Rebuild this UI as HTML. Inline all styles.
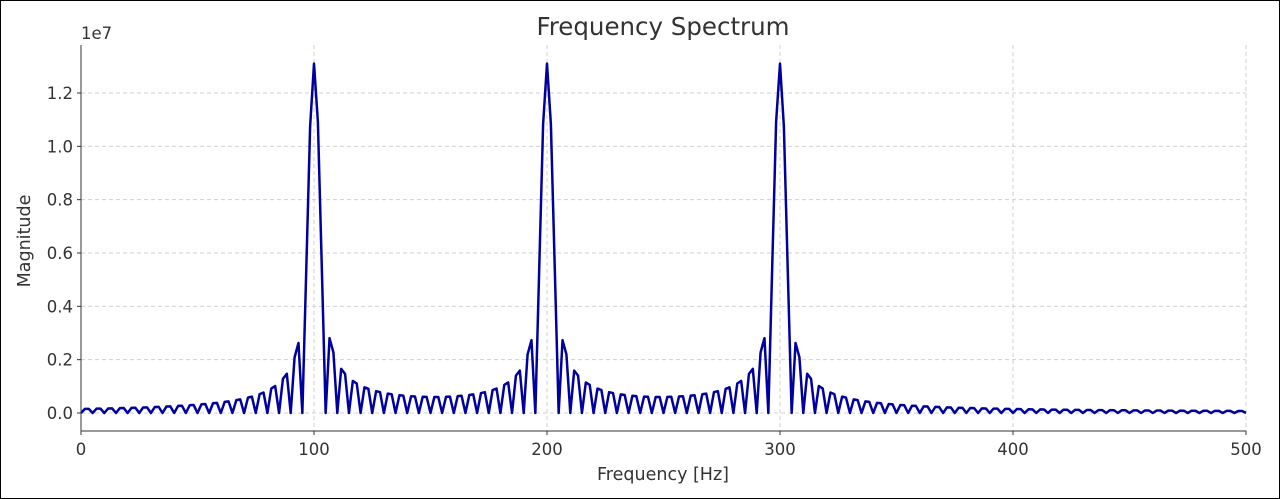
<!DOCTYPE html>
<html><head><meta charset="utf-8"><style>
html,body{margin:0;padding:0;background:#fff;}
#wrap{width:1278px;height:497px;border:1px solid #000;position:relative;overflow:hidden;}
svg{display:block;font-family:"DejaVu Sans","Liberation Sans",sans-serif;}
</style></head><body>
<div id="wrap">
<svg id="chart" width="1278" height="497"></svg>
</div>
<script>
const freqStart = 0;
const freqStep = 5/3;
const magnitudesMillions = [
0,.153,.156,0,.162,.165,0,.171,.174,0,.182,.186,0,.194,.198,0,.208,.213,0,.224,.230,0,.243,.250,0,.265,.274,0,.292,.302,0,.325,.337,0,.365,.380,0,.416,.436,0,.484,.511,0,.576,.614,0,.708,.766,0,.915,1.012,0,1.279,1.471,0,2.086,2.626,0,5.329,10.742,
13.1,
10.92,5.51,0,2.807,2.269,0,1.656,1.465,0,1.201,1.106,0,.962,.907,0,.819,.784,0,.727,.704,0,.667,.652,0,.628,.620,0,.608,.604,0,.601,.602,0,.609,.615,0,.633,.645,0,.677,.697,0,.748,.781,0,.863,.915,0,1.053,1.145,0,1.403,1.590,0,2.196,2.732,0,5.427,10.836,
13.1,
10.836,5.427,0,2.732,2.196,0,1.590,1.403,0,1.145,1.053,0,.915,.863,0,.781,.748,0,.697,.677,0,.645,.633,0,.615,.609,0,.602,.601,0,.604,.608,0,.620,.628,0,.652,.667,0,.704,.727,0,.784,.819,0,.907,.962,0,1.106,1.201,0,1.465,1.656,0,2.269,2.807,0,5.51,10.92,
13.1,
10.742,5.329,0,2.626,2.086,0,1.471,1.279,0,1.012,.915,0,.766,.708,0,.614,.576,0,.511,.484,0,.436,.416,0,.380,.365,0,.337,.325,0,.302,.292,0,.274,.265,0,.250,.243,0,.230,.224,0,.213,.208,0,.198,.194,0,.186,.182,0,.174,.171,0,.165,.162,0,.156,.153,0,
.148,.145,0,.141,.138,0,.134,.132,0,.128,.127,0,.123,.121,0,.118,.117,0,.114,.112,0,.109,.108,0,.106,.104,0,.102,.101,0,.098,.097,0,.095,.094,0,.093,.092,0,.090,.089,0,.087,.086,0,.085,.084,0,.083,.082,0,.081,.080,0,.078,.078,0,.076,.076,0
];
const xTicks = [0,100,200,300,400,500];
const yTicks = [0.0,0.2,0.4,0.6,0.8,1.0,1.2];
const yTickLabels = ["0.0","0.2","0.4","0.6","0.8","1.0","1.2"];

const NS = "http://www.w3.org/2000/svg";
const svg = document.getElementById('chart');
const L = 80, R = 1245, T = 44, B = 430;
const xMin = 0, xMax = 500, yMin = -0.0675, yMax = 1.38;
function xs(v){ return L + (v - xMin) / (xMax - xMin) * (R - L); }
function ys(v){ return B - (v - yMin) / (yMax - yMin) * (B - T); }
function mk(tag, attrs){ const e = document.createElementNS(NS, tag); for (const k in attrs) e.setAttribute(k, attrs[k]); svg.appendChild(e); return e; }

xTicks.forEach((t) => {
  const x = xs(t);
  const g = mk('line', {x1:x, x2:x, y1:T, y2:B, stroke:'#d0d0d0', 'stroke-width':1, 'stroke-dasharray':'4,3'});
  
  
  const tk = mk('line', {x1:x, x2:x, y1:B, y2:B+4, stroke:'#333', 'stroke-width':1});
  
  
  const lb = mk('text', {x:x, y:B+24, 'text-anchor':'middle', 'font-size':16.5, fill:'#333'});
  lb.textContent = String(t);
  
  
});
yTicks.forEach((t, i) => {
  const y = ys(t);
  const g = mk('line', {x1:L, x2:R, y1:y, y2:y, stroke:'#d0d0d0', 'stroke-width':1, 'stroke-dasharray':'4,3'});
  
  
  const tk = mk('line', {x1:L-4, x2:L, y1:y, y2:y, stroke:'#333', 'stroke-width':1});
  
  
  const lb = mk('text', {x:L-8, y:y+6, 'text-anchor':'end', 'font-size':16.5, fill:'#333'});
  lb.textContent = yTickLabels[i];
  
  
});

let d = '';
magnitudesMillions.forEach((m, i) => {
  const f = freqStart + i * freqStep;
  d += (i ? 'L' : 'M') + xs(f).toFixed(2) + ',' + ys(m / 10).toFixed(2);
});
const line = mk('path', {d:d, fill:'none', stroke:'#0000a0', 'stroke-width':2.5, 'stroke-linejoin':'round'});



const sl = mk('line', {x1:L, x2:L, y1:T, y2:B, stroke:'#333', 'stroke-width':1});


const sb = mk('line', {x1:L, x2:R, y1:B, y2:B, stroke:'#333', 'stroke-width':1});



const title = mk('text', {x:662, y:34, 'text-anchor':'middle', 'font-size':24.5, fill:'#333'});
title.textContent = 'Frequency Spectrum';


const off = mk('text', {x:L, y:38, 'font-size':16.5, fill:'#333'});
off.textContent = '1e7';


const xl = mk('text', {x:662, y:479, 'text-anchor':'middle', 'font-size':17.5, fill:'#333'});
xl.textContent = 'Frequency [Hz]';


const yl = mk('text', {x:0, y:0, 'text-anchor':'middle', 'font-size':17.5, fill:'#333', transform:'translate(29,240) rotate(-90)'});
yl.textContent = 'Magnitude';


</script>
</body></html>
